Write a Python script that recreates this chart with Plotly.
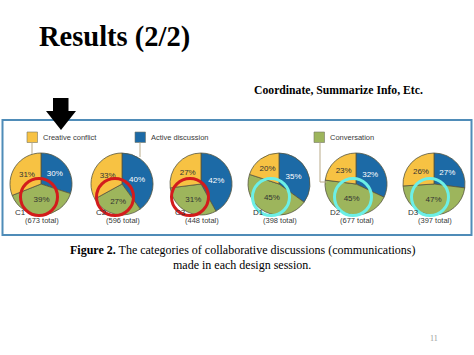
import plotly.graph_objects as go

W, H = 474, 355

# ---- data ----
sessions = ["C1", "C2", "C3", "D1", "D2", "D3"]
totals = [673, 596, 448, 398, 677, 397]
categories = ["Active discussion", "Conversation", "Creative conflict"]
active = [30, 40, 42, 35, 32, 27]
conversation = [39, 27, 31, 45, 45, 47]
creative = [31, 33, 27, 20, 23, 26]

# ---- style ----
c_blue = "#1c6aa6"
c_green = "#9db55c"
c_yellow = "#f7c243"
pie_cx = [41, 122, 201, 279, 356, 434]
pie_cy = 184
pie_r = 31
circle_dx = [-2, -7, -11, -8, -3, -4]
circle_dy = 13
circle_r = 18.5
circle_col = ["#d31c1c"] * 3 + ["#6cefe6"] * 3
narrow = "Liberation Sans Narrow, Arial Narrow, Liberation Sans, Arial"
serif = "Liberation Serif, Times New Roman, serif"


def px(x):
    return x / W


def py(y):
    return 1 - y / H


fig = go.Figure()
for i, s in enumerate(sessions):
    vals = [active[i], conversation[i], creative[i]]
    cx = pie_cx[i]
    fig.add_trace(go.Pie(
        labels=categories,
        values=vals,
        text=[f"{v}%" for v in vals],
        textinfo="text",
        textposition="inside",
        insidetextorientation="horizontal",
        textfont=dict(family=narrow, size=8, color=["white", "#333333", "#333333"]),
        marker=dict(colors=[c_blue, c_green, c_yellow], line=dict(color="#55553f", width=0.8)),
        sort=False,
        direction="clockwise",
        rotation=0,
        showlegend=False,
        hoverinfo="label+percent",
        domain=dict(x=[px(cx - pie_r), px(cx + pie_r)], y=[py(pie_cy + pie_r), py(pie_cy - pie_r)]),
    ))

shapes = []
annotations = []

# frame
shapes.append(dict(type="rect", xref="paper", yref="paper", x0=px(2.5), x1=px(471.5), y0=py(235), y1=py(120),
                   line=dict(color="#4f8cb8", width=2), fillcolor="rgba(0,0,0,0)", layer="below"))

# arrow
shapes.append(dict(type="rect", xref="paper", yref="paper", x0=px(53), x1=px(68.5), y0=py(112), y1=py(98),
                   line=dict(width=0), fillcolor="black"))
shapes.append(dict(type="path", xref="paper", yref="paper",
                   path=f"M {px(46)},{py(111)} L {px(76)},{py(111)} L {px(61)},{py(130)} Z",
                   line=dict(width=0), fillcolor="black"))

# legend with leader lines
leader = "#b9ab8a"
legend = [(27, c_yellow, "Creative conflict"), (135, c_blue, "Active discussion"), (314, c_green, "Conversation")]
for x0, col, lab in legend:
    shapes.append(dict(type="rect", xref="paper", yref="paper", x0=px(x0), x1=px(x0 + 10.5), y0=py(142.5), y1=py(132),
                       line=dict(color="#777766", width=0.6), fillcolor=col))
    annotations.append(dict(text=lab, xref="paper", yref="paper", x=px(x0 + 13.5), y=py(137.5),
                            xanchor="left", yanchor="middle", showarrow=False,
                            font=dict(family=narrow, size=7.5, color="#3a3a3a")))
shapes.append(dict(type="line", xref="paper", yref="paper", x0=px(32), x1=px(32), y0=py(142.5), y1=py(154),
                   line=dict(color=leader, width=1)))
shapes.append(dict(type="line", xref="paper", yref="paper", x0=px(140), x1=px(140), y0=py(142.5), y1=py(157),
                   line=dict(color=leader, width=1)))
shapes.append(dict(type="path", xref="paper", yref="paper",
                   path=f"M {px(320)},{py(142.5)} L {px(320)},{py(182)} L {px(327)},{py(182)}",
                   line=dict(color=leader, width=1)))

# session labels and totals
for i, s in enumerate(sessions):
    cx = pie_cx[i]
    annotations.append(dict(text=s, xref="paper", yref="paper", x=px(cx - 28.5), y=py(212.5),
                            xanchor="left", yanchor="middle", showarrow=False,
                            font=dict(family=narrow, size=8, color="#333333")))
    annotations.append(dict(text=f"({totals[i]} total)", xref="paper", yref="paper", x=px(cx + 1), y=py(221),
                            xanchor="center", yanchor="middle", showarrow=False,
                            font=dict(family=narrow, size=7.5, color="#3a3a3a")))
    ccx = cx + circle_dx[i]
    ccy = pie_cy + circle_dy
    shapes.append(dict(type="circle", xref="paper", yref="paper",
                       x0=px(ccx - circle_r), x1=px(ccx + circle_r), y0=py(ccy + circle_r), y1=py(ccy - circle_r),
                       line=dict(color=circle_col[i], width=3), fillcolor="rgba(0,0,0,0)", layer="above"))

# slide texts
annotations.append(dict(text="<b>Results (2/2)</b>", xref="paper", yref="paper", x=px(37), y=py(37),
                        xanchor="left", yanchor="middle", showarrow=False,
                        font=dict(family=serif, size=28.5, color="black")))
annotations.append(dict(text="<b>Coordinate, Summarize Info, Etc.</b>", xref="paper", yref="paper", x=px(252), y=py(90),
                        xanchor="left", yanchor="middle", showarrow=False,
                        font=dict(family=serif, size=11.7, color="black")))
annotations.append(dict(text="<b>Figure 2.</b> The categories of collaborative discussions (communications)",
                        xref="paper", yref="paper", x=px(242), y=py(250),
                        xanchor="center", yanchor="middle", showarrow=False,
                        font=dict(family=serif, size=12, color="black")))
annotations.append(dict(text="made in each design session.",
                        xref="paper", yref="paper", x=px(242), y=py(265),
                        xanchor="center", yanchor="middle", showarrow=False,
                        font=dict(family=serif, size=12, color="black")))
annotations.append(dict(text="11", xref="paper", yref="paper", x=px(434), y=py(338),
                        xanchor="center", yanchor="middle", showarrow=False,
                        font=dict(family=serif, size=8, color="#999999")))

fig.update_layout(
    width=W, height=H,
    margin=dict(l=0, r=0, t=0, b=0),
    paper_bgcolor="white", plot_bgcolor="white",
    shapes=shapes, annotations=annotations,
)
fig.write_html("out.html", config={"displayModeBar": False},
               post_script="document.body.style.margin='0';document.body.style.overflow='hidden';")
